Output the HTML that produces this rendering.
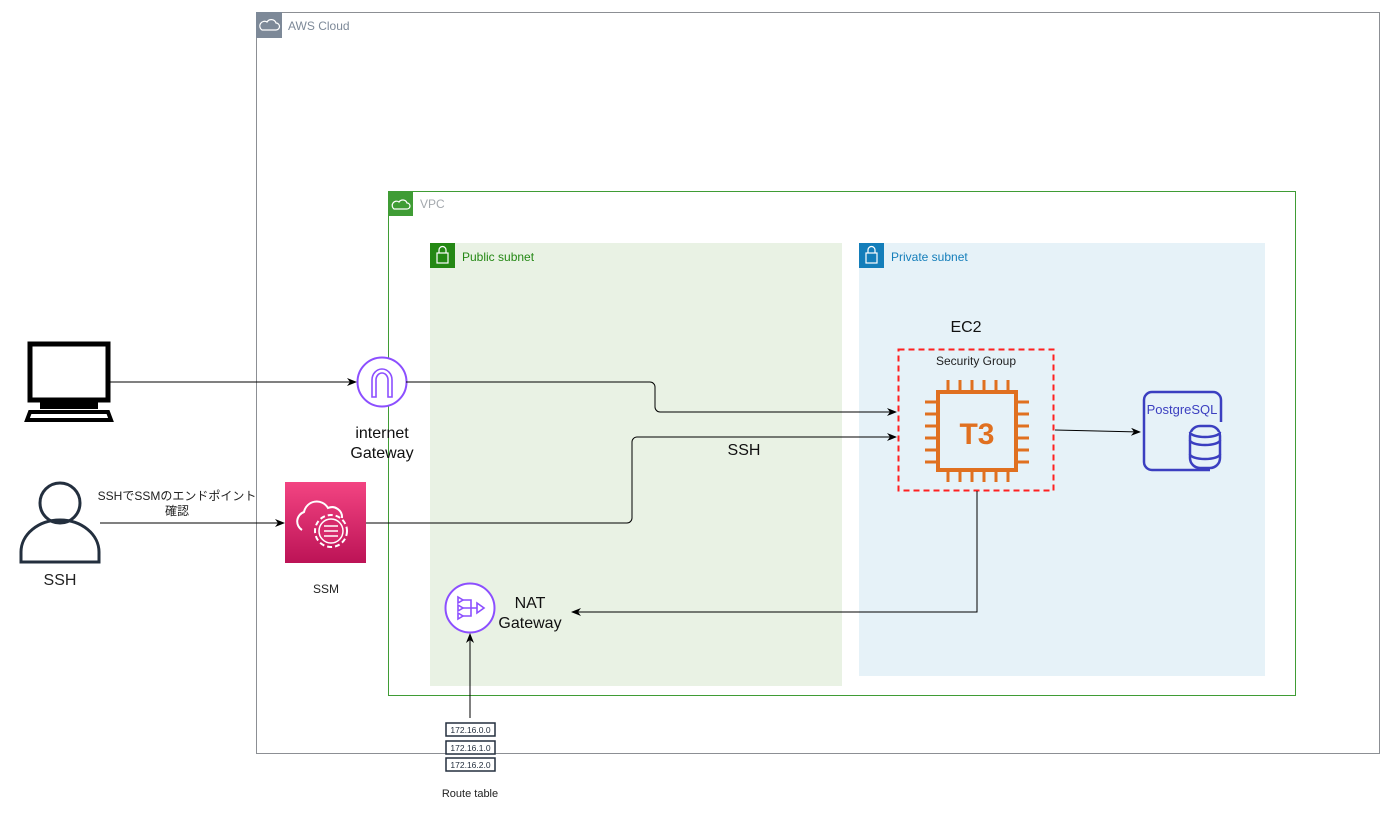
<!DOCTYPE html>
<html><head><meta charset="utf-8"><style>
html,body{margin:0;padding:0;background:#fff;}
svg{display:block;font-family:"Liberation Sans","Noto Sans CJK JP",sans-serif;}
</style></head><body>
<svg width="1400" height="833" viewBox="0 0 1400 833" xmlns="http://www.w3.org/2000/svg">
<defs>
<marker id="ar" markerWidth="10" markerHeight="8" refX="9" refY="4" orient="auto" markerUnits="userSpaceOnUse">
<path d="M0,0 L10,4 L0,8 L3,4 Z" fill="#000"/></marker>
<linearGradient id="pk" x1="0" y1="0" x2="0" y2="1"><stop offset="0" stop-color="#f34482"/><stop offset="1" stop-color="#bc1356"/></linearGradient>
</defs>
<!-- AWS Cloud -->
<rect x="256.5" y="12.5" width="1123" height="741" fill="none" stroke="#8c8f94" stroke-width="1"/>
<rect x="256" y="12" width="26" height="26" fill="#7d8998"/>
<path d="M262,30 h14 a3.5,3.5 0 0 0 0,-7 a5,5 0 0 0 -9,-1 a4,4 0 0 0 -5,8 z" fill="none" stroke="#fff" stroke-width="1.2"/>
<text x="288" y="30" font-size="12" fill="#7d8998">AWS Cloud</text>
<!-- VPC -->
<rect x="388.5" y="191.5" width="907" height="504" fill="none" stroke="#3f9c35" stroke-width="1"/>
<rect x="388" y="191" width="25" height="25" fill="#3f9c35"/>
<path d="M394,209 h13 a3,3 0 0 0 0,-6 a4.5,4.5 0 0 0 -8,-1 a3.5,3.5 0 0 0 -5,7 z" fill="none" stroke="#fff" stroke-width="1.2"/>
<text x="420" y="208" font-size="12" fill="#a3a8ad">VPC</text>
<!-- Public subnet -->
<rect x="430" y="243" width="412" height="443" fill="#e9f2e4"/>
<rect x="430" y="243" width="25" height="25" fill="#248814"/>
<rect x="437" y="253" width="11" height="10" fill="none" stroke="#fff" stroke-width="1.2"/>
<path d="M439,253 v-3 a3,3 0 0 1 7,0 v3" fill="none" stroke="#fff" stroke-width="1.2"/>
<text x="462" y="261" font-size="12" fill="#248814">Public subnet</text>
<!-- Private subnet -->
<rect x="859" y="243" width="406" height="433" fill="#e6f2f8"/>
<rect x="859" y="243" width="25" height="25" fill="#147eba"/>
<rect x="866" y="253" width="11" height="10" fill="none" stroke="#fff" stroke-width="1.2"/>
<path d="M868,253 v-3 a3,3 0 0 1 7,0 v3" fill="none" stroke="#fff" stroke-width="1.2"/>
<text x="891" y="261" font-size="12" fill="#147eba">Private subnet</text>

<!-- Monitor -->
<rect x="30" y="344" width="78" height="56" fill="none" stroke="#000" stroke-width="5"/>
<rect x="40" y="402" width="58" height="7" fill="#000"/>
<path d="M30,412 h78 l3,8 h-84 z" fill="none" stroke="#000" stroke-width="4"/>
<!-- Person -->
<circle cx="60" cy="503" r="20" fill="none" stroke="#232f3e" stroke-width="3"/>
<path d="M21,562 v-10 a39,32 0 0 1 78,0 v10 z" fill="none" stroke="#232f3e" stroke-width="3"/>
<text x="60" y="585" font-size="16" fill="#222" text-anchor="middle">SSH</text>

<!-- IGW -->
<circle cx="382" cy="382" r="24.5" fill="#fff" stroke="#8c4fff" stroke-width="2"/>
<path d="M372,397 v-17 a10,11 0 0 1 20,0 v17 h-4 v-17 a6,7 0 0 0 -12,0 v17 z" fill="none" stroke="#8c4fff" stroke-width="1.6"/>
<text x="382" y="438" font-size="16" fill="#111" text-anchor="middle">internet</text>
<text x="382" y="458" font-size="16" fill="#111" text-anchor="middle">Gateway</text>

<!-- SSM -->
<rect x="285" y="482" width="81" height="81" fill="url(#pk)"/>
<path d="M302,530 a10,10 0 0 1 2,-18 a13,13 0 0 1 24,-4 a10,10 0 0 1 14,10" fill="none" stroke="#fff" stroke-width="2"/>
<circle cx="331" cy="531" r="16" fill="none" stroke="#fff" stroke-width="2" stroke-dasharray="5 3"/>
<circle cx="331" cy="531" r="12" fill="#d72b6c" stroke="#fff" stroke-width="1.5"/>
<path d="M324,526 h14 M324,531 h14 M324,536 h14" stroke="#fff" stroke-width="1.5"/>
<text x="326" y="593" font-size="12" fill="#222" text-anchor="middle">SSM</text>
<text x="177" y="500" font-size="12" fill="#222" text-anchor="middle">SSHでSSMのエンドポイント</text>
<text x="177" y="515" font-size="12" fill="#222" text-anchor="middle">確認</text>

<!-- NAT -->
<circle cx="470" cy="608" r="24.5" fill="#fff" stroke="#8c4fff" stroke-width="2"/>
<g fill="none" stroke="#8c4fff" stroke-width="1.6">
<path d="M458,597 l5,3 l-5,3 z M458,605 l5,3 l-5,3 z M458,613 l5,3 l-5,3 z"/>
<path d="M463,600 h8 v16 h-8 M463,608 h14"/>
<path d="M477,603 l7,5 l-7,5 z"/>
</g>
<text x="530" y="608" font-size="16" fill="#111" text-anchor="middle">NAT</text>
<text x="530" y="628" font-size="16" fill="#111" text-anchor="middle">Gateway</text>

<!-- Route table -->
<g font-size="8.5" fill="#232f3e" text-anchor="middle">
<rect x="446" y="723" width="49" height="13" fill="#fff" stroke="#232f3e" stroke-width="1.5"/>
<text x="470.5" y="733">172.16.0.0</text>
<rect x="446" y="741" width="49" height="13" fill="#fff" stroke="#232f3e" stroke-width="1.5"/>
<text x="470.5" y="751">172.16.1.0</text>
<rect x="446" y="758" width="49" height="13" fill="#fff" stroke="#232f3e" stroke-width="1.5"/>
<text x="470.5" y="768">172.16.2.0</text>
</g>
<text x="470" y="797" font-size="11" fill="#222" text-anchor="middle">Route table</text>

<!-- EC2 -->
<text x="966" y="332" font-size="16" fill="#111" text-anchor="middle">EC2</text>
<rect x="898.5" y="349.5" width="155" height="141" fill="none" stroke="#ff2020" stroke-width="2" stroke-dasharray="6 4"/>
<text x="976" y="365" font-size="12" fill="#222" text-anchor="middle">Security Group</text>
<rect x="938" y="392" width="78" height="78" fill="none" stroke="#e07020" stroke-width="4"/>
<g stroke="#e07020" stroke-width="3">
<path d="M948,380 v12 M960,380 v12 M972,380 v12 M984,380 v12 M996,380 v12 M1008,380 v12"/>
<path d="M948,470 v12 M960,470 v12 M972,470 v12 M984,470 v12 M996,470 v12 M1008,470 v12"/>
<path d="M925,402 h13 M925,414 h13 M925,426 h13 M925,438 h13 M925,450 h13 M925,462 h13"/>
<path d="M1016,402 h13 M1016,414 h13 M1016,426 h13 M1016,438 h13 M1016,450 h13 M1016,462 h13"/>
</g>
<text x="977" y="444" font-size="30" font-weight="bold" fill="#e07020" text-anchor="middle">T3</text>

<!-- PostgreSQL -->
<path d="M1210,470 h-58 a8,8 0 0 1 -8,-8 v-62 a8,8 0 0 1 8,-8 h61 a8,8 0 0 1 8,8 v22" fill="none" stroke="#3b3fc0" stroke-width="2.5"/>
<text x="1182" y="414" font-size="13" fill="#3b3fc0" text-anchor="middle">PostgreSQL</text>
<g fill="#e6f2f8" stroke="#3b3fc0" stroke-width="2.5">
<rect x="1190" y="426" width="30" height="42" rx="10"/>
<path d="M1190,440 a15,5 0 0 0 30,0 M1190,454 a15,5 0 0 0 30,0 M1190,432 a15,5 0 0 0 30,0"/>
</g>

<!-- Connectors -->
<g fill="none" stroke="#000" stroke-width="1">
<path d="M110,382 H356" marker-end="url(#ar)"/>
<path d="M406,382 H650 a5,5 0 0 1 5,5 V407 a5,5 0 0 0 5,5 H896" marker-end="url(#ar)"/>
<path d="M366,523 H627 a5,5 0 0 0 5,-5 V442 a5,5 0 0 1 5,-5 H896" marker-end="url(#ar)"/>
<path d="M1055,430 L1140,432" marker-end="url(#ar)"/>
<path d="M977,491 V612 H572" marker-end="url(#ar)"/>
<path d="M470,718 V634" marker-end="url(#ar)"/>
<path d="M100,523 H284" marker-end="url(#ar)"/>
</g>
<text x="744" y="455" font-size="16" fill="#111" text-anchor="middle">SSH</text>
</svg>
</body></html>
